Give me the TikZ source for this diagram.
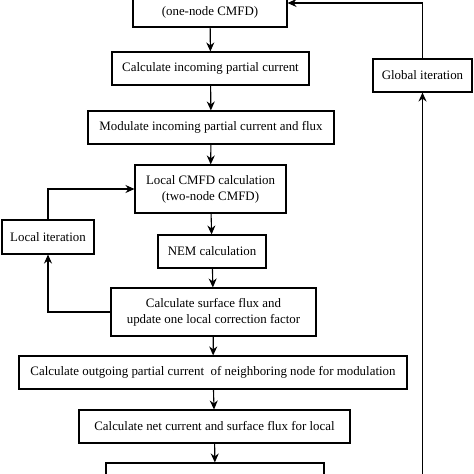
\documentclass[tikz,border=0pt]{standalone}
\usepackage{fontspec}
\setmainfont{Liberation Serif}
\usepackage{tikz}
\usetikzlibrary{arrows.meta}

\tikzset{
    box/.style={draw, line width=1.1pt, align=center, inner sep=0pt,
        font=\fontsize{12.9}{16}\selectfont},
}

\begin{document}
\begin{tikzpicture}[>={Stealth[length=9pt, width=8pt]}, line width=1.1pt, x=1pt, y=-1pt]
        \useasboundingbox (0, 0) rectangle (474, 474);
        \clip (0, 0) rectangle (474, 474);
        \node[box, minimum width=154, minimum height=48] (glob) at (210, 3) {\strut\\(one-node CMFD)};
        \node[box, minimum width=197, minimum height=33] (inc) at (210.5, 68.5) {Calculate incoming partial current};
        \node[box, minimum width=246, minimum height=33] (mod) at (211, 127.5) {Modulate incoming partial current and flux};
        \node[box, minimum width=151, minimum height=48] (loc) at (210.5, 189) {Local CMFD calculation\\(two-node CMFD)};
        \node[box, minimum width=108, minimum height=33] (nem) at (212, 251.5) {NEM calculation};
        \node[box, minimum width=205, minimum height=48] (surf) at (213.5, 312) {Calculate surface flux and\\update one local correction factor};
        \node[box, minimum width=388, minimum height=33] (outg) at (213, 372.5) {Calculate outgoing partial current\ \ of neighboring node for modulation};
        \node[box, minimum width=271, minimum height=33] (net) at (214.5, 426.5) {Calculate net current and surface flux for local};
        \node[box, minimum width=218, minimum height=34] (last) at (215, 480) {};
        \node[box, minimum width=99, minimum height=33] (giter) at (422.5, 75.5) {Global iteration};
        \node[box, minimum width=92, minimum height=34] (liter) at (48, 237) {Local iteration};
        \coordinate (gbot) at (422.5, 480);
        % main chain
        \draw[->] (glob) -- (inc);
        \draw[->] (inc) -- (mod);
        \draw[->] (mod) -- (loc);
        \draw[->] (loc) -- (nem);
        \draw[->] (nem) -- (surf);
        \draw[->] (surf) -- (outg);
        \draw[->] (outg) -- (net);
        \draw[->] (net) -- (last);
        % loops
        \draw[->] (surf.west) -| (liter.south);
        \draw[->] (liter.north) |- (loc.west);
        \draw[->] (gbot) -- (giter.south);
        \draw[->] (giter.north) |- (glob.east);
    \end{tikzpicture}
\end{document}
